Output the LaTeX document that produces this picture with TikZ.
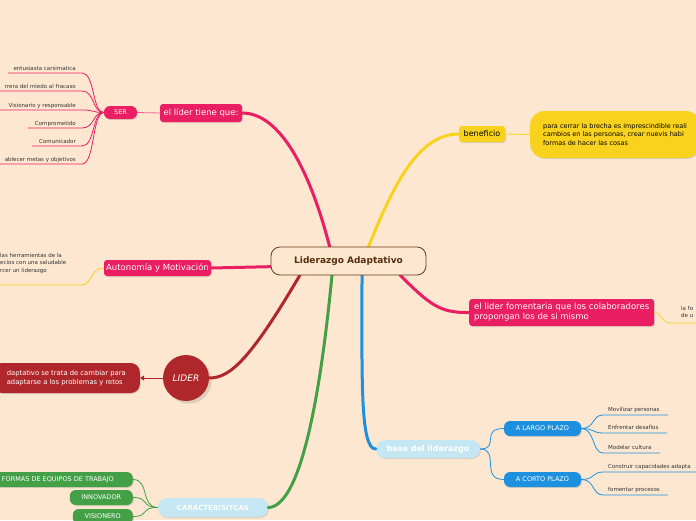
\documentclass[tikz,border=0pt]{standalone}
\usepackage{fontspec}
\setmainfont{DejaVu Sans}
\usetikzlibrary{shadows,arrows.meta}
\definecolor{bg}{HTML}{FDE7D1}
\definecolor{pk}{HTML}{E91E63}
\definecolor{yl}{HTML}{F9D21D}
\definecolor{dr}{HTML}{B0272B}
\definecolor{lb}{HTML}{C5E6F3}
\definecolor{bl}{HTML}{1E90E0}
\definecolor{gr}{HTML}{43A047}
\definecolor{br}{HTML}{6B3A12}
\definecolor{tx}{HTML}{333333}
\tikzset{
 box/.style={rounded corners=3pt,inner sep=0pt,align=left,drop shadow={opacity=0.25,shadow xshift=1pt,shadow yshift=-1pt}},
 pkbox/.style={box,fill=pk,text=white,font=\fontsize{8.5}{10}\selectfont},
 pill/.style={box,rounded corners=6pt,font=\fontsize{6.5}{8}\selectfont,text=white},
 leaf/.style={font=\fontsize{5.5}{7}\selectfont,text=tx,inner sep=0pt},
 br3/.style={line width=3pt,line cap=round},
 thin/.style={line width=0.8pt}
}
\begin{document}
\begin{tikzpicture}[x=1pt,y=-1pt]
\fill[bg] (0,0) rectangle (696,520);
\useasboundingbox (0,0) rectangle (696,520);
\clip (0,0) rectangle (696,520);
% coordinates for branch roots
\coordinate (rLt) at (330,248);
\coordinate (rAu) at (300,266);
\coordinate (rLi) at (300,275);
\coordinate (rBe) at (368,248);
\coordinate (rFo) at (400,275);
\coordinate (rBa) at (362,275);
\coordinate (rCa) at (332,275);
% main nodes
\node[pkbox,minimum width=82,minimum height=18,align=center] (lt) at (201,113) {el líder tiene que:};
\node[pill,fill=pk,minimum width=33,minimum height=13,align=center] (ser) at (120.5,112.5) {SER};
\node[pkbox,minimum width=107,minimum height=16,align=center] (au) at (157.5,268) {Autonomía y Motivación};
\node[circle,fill=dr,minimum size=46,inner sep=0,text=white,font=\itshape\fontsize{9}{10}\selectfont,drop shadow={opacity=0.25}] (li) at (186,378) {LIDER};
\node[box,rounded corners=9pt,fill=dr,text=white,font=\fontsize{6.8}{9}\selectfont,minimum height=30,inner xsep=14pt,anchor=east] (lbox) at (140,378) {daptativo se trata de cambiar para\\ adaptarse a los problemas y retos};
\node[box,fill=yl,text=black,font=\fontsize{8}{9}\selectfont,minimum width=46,minimum height=16,align=center] (be) at (482,134) {beneficio};
\node[box,rounded corners=14pt,fill=yl,text=black,font=\fontsize{6.5}{8.5}\selectfont,minimum height=47,inner xsep=13pt,anchor=west] (bbox) at (530,134.5) {para cerrar la brecha es imprescindible reali\\cambios en las personas, crear nuevis habi\\formas de hacer las cosas};
\node[pkbox,minimum width=185,minimum height=27,inner xsep=5pt,anchor=west] (fo) at (469,312.5) {el lider fomentaria que los colaboradores\\propongan los de si mismo};
\node[box,rounded corners=9pt,fill=lb,text=white,font=\bfseries\fontsize{8}{10}\selectfont,minimum width=104,minimum height=18,align=center] (ba) at (428,449) {base del liderazgo};
\node[pill,fill=bl,minimum width=77,minimum height=15,align=center] (lp) at (542.5,428.5) {A LARGO PLAZO};
\node[pill,fill=bl,minimum width=77,minimum height=15,align=center] (cp) at (542.5,479.5) {A CORTO PLAZO};
\node[box,rounded corners=9pt,fill=lb,text=white,font=\bfseries\fontsize{7}{9}\selectfont,minimum width=110,minimum height=19,align=center] (ca) at (213,507.5) {CARACTERISITCAS};
\node[pill,fill=gr,minimum width=150,minimum height=15,anchor=east] (g1) at (133,479.5) {FORMAS DE EQUIPOS DE TRABAJO};
\node[pill,fill=gr,minimum width=63,minimum height=15,anchor=east] (g2) at (133,497.5) {INNOVADOR};
\node[pill,fill=gr,minimum width=60,minimum height=15,anchor=east] (g3) at (133,516.5) {VISIONERO};
% branches
\draw[br3,pk] (rLt) .. controls (310,170) and (280,113) .. (lt.east);
\draw[br3,pk] (rAu) -- (au.east);
\draw[br3,dr] (rLi) .. controls (250,360) and (230,378) .. (li.east);
\draw[br3,yl] (rBe) .. controls (395,180) and (420,134) .. (be.west);
\draw[br3,pk] (rFo) .. controls (430,305) and (440,313) .. (fo.west);
\draw[br3,bl] (rBa) .. controls (362,380) and (360,449) .. (ba.west);
\draw[br3,gr] (rCa) .. controls (320,400) and (300,507) .. (ca.east);
% center
\node[rounded corners=9pt,draw=br,line width=0.8pt,fill=bg,font=\bfseries\fontsize{9}{10}\selectfont,text=br!80!black,minimum width=155,minimum height=28] (c) at (348.5,261) {Liderazgo Adaptativo};
% secondary
\draw[thin,pk!70] (lt.west) -- (ser.east);
\draw[thin,dr,-{Triangle[length=4pt,width=5pt]}] (li.west) -- (lbox.east);
\draw[thin,yl] (be.east) -- (bbox.west);
\draw[thin,bl] (ba.east) .. controls (500,449) and (480,428.5) .. (lp.west);
\draw[thin,bl] (ba.east) .. controls (500,449) and (480,479.5) .. (cp.west);
\draw[thin,gr] (ca.west) .. controls (140,507) and (150,479.5) .. (g1.east);
\draw[thin,gr] (ca.west) .. controls (140,507) and (150,497.5) .. (g2.east);
\draw[thin,gr] (ca.west) .. controls (140,507) and (150,516.5) .. (g3.east);
% SER leaves
\foreach \t/\y/\x in {entusiasta carsimatica/73/8,rrera del miedo al fracaso/91/0,Visionario y responsable/110/0,Comprometido/128/28,Comunicador/146/32,ablecer metas y objetivos/164/0}{
  \coordinate (a) at (\x,\y);
  \coordinate (b) at (82,\y);
  \node[leaf,anchor=base east] at (76,\y-3) {\t};
  \draw[thin,pk] (a) -- (b) .. controls (95,\y) and (92,112.5) .. (ser.west);
}
% autonomia leaf
\node[leaf,anchor=north west,align=left,font=\fontsize{5.5}{7.5}\selectfont] (al) at (0,253) {las herramientas de la\\ecios con una saludable\\rcer un liderazgo};
\coordinate (al1) at (0,285);
\coordinate (al2) at (82,285);
\draw[thin,yl] (al1) -- (al2) .. controls (92,285) and (90,268) .. (au.west);
% fomentaria leaf
\node[leaf,anchor=north west,align=left,font=\fontsize{5.5}{7.5}\selectfont] (fol) at (681,306) {la fo\\de u};
\coordinate (fl1) at (670,323);
\coordinate (fl2) at (696,323);
\draw[thin,yl] (fo.east) .. controls (662,313) and (662,323) .. (fl1) -- (fl2);
% largo plazo leaves
\foreach \t/\y/\e in {Movilizar personas/415/668,Enfrentar desafíos/433/667,Modelar cultura/453/660}{
  \node[leaf,anchor=base west] at (608,\y-4) {\t};
  \coordinate (a) at (603,\y);
  \coordinate (b) at (\e,\y);
  \draw[thin,bl] (lp.east) .. controls (595,428.5) and (592,\y) .. (a) -- (b);
}
\foreach \t/\y/\e in {Construir capacidades adapta/472/696,fomentar procesos/495/668}{
  \node[leaf,anchor=base west] at (608,\y-4) {\t};
  \coordinate (a) at (603,\y);
  \coordinate (b) at (\e,\y);
  \draw[thin,bl] (cp.east) .. controls (595,479.5) and (592,\y) .. (a) -- (b);
}
\end{tikzpicture}
\end{document}
